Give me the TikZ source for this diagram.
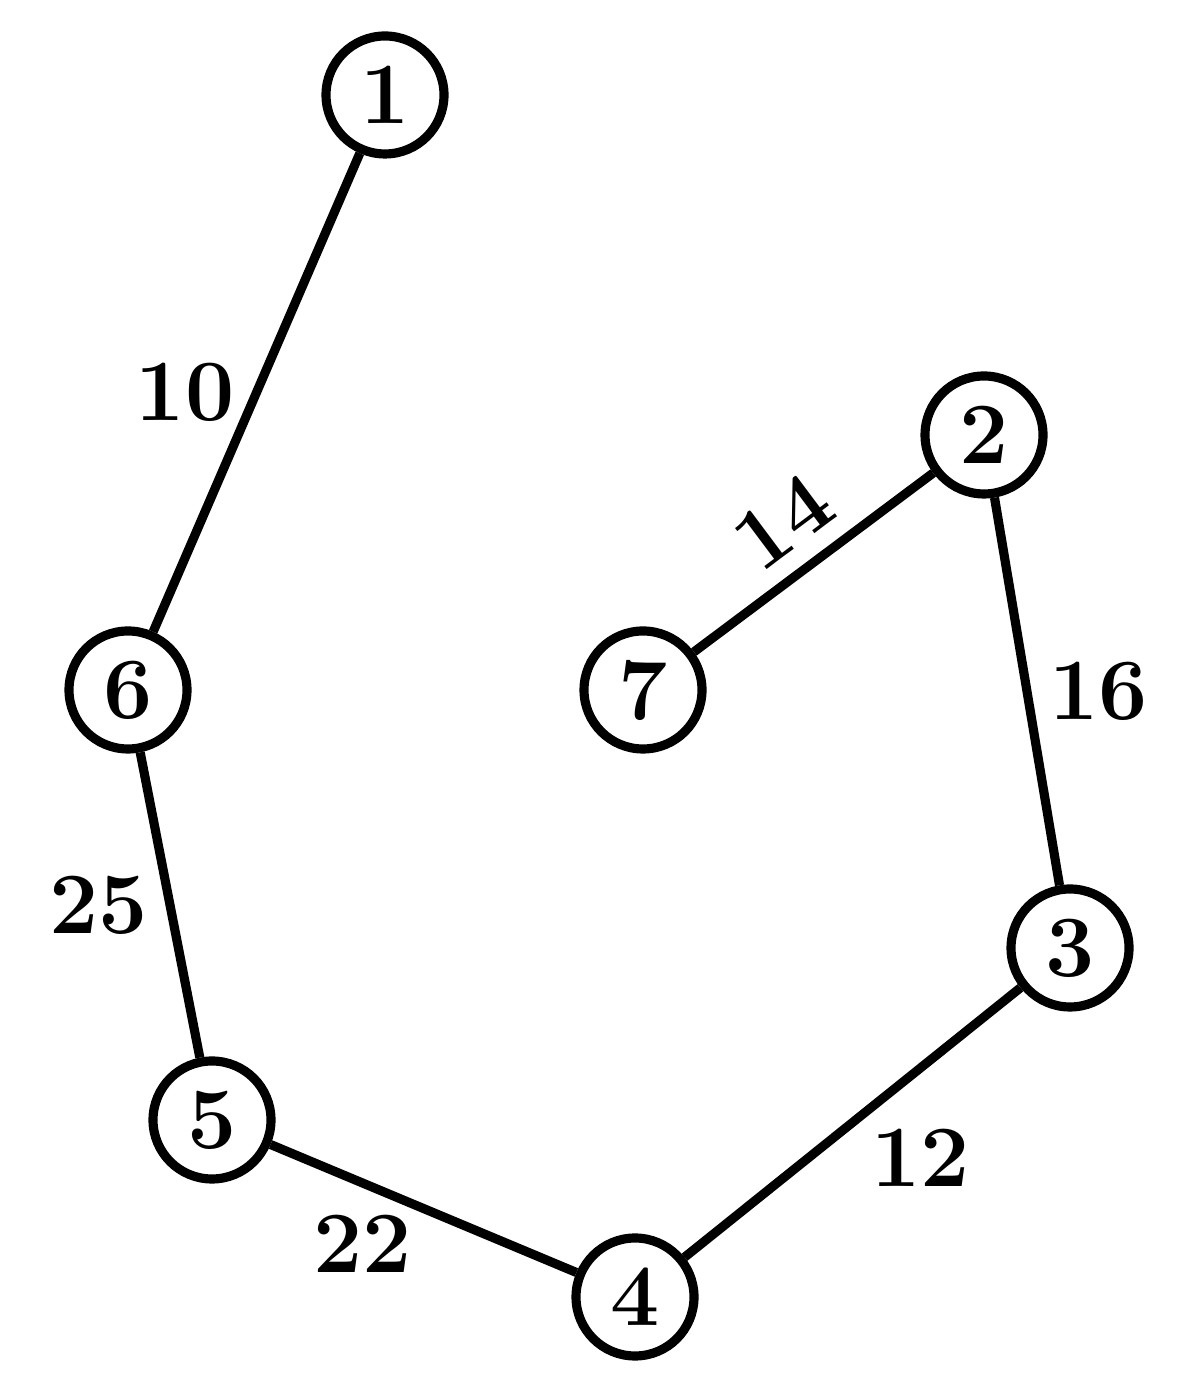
\documentclass[tikz,border=0pt]{standalone}
\usepackage{tikz}

\begin{document}
\begin{tikzpicture}[
	vertex/.style={draw, circle, line width=2.6pt, minimum size=1.18cm, inner sep=0pt, font=\Huge\bfseries},
	weight/.style={inner sep=5pt, font=\Huge\bfseries},
	link/.style={line width=2.6pt}
	]
		%%%%% START %%%%%
		\useasboundingbox (0, 0) rectangle (12, 13.92);
		
		\node[vertex] (v1) at (3.85, 12.97) {1};
		\node[vertex] (v2) at (9.84, 9.57) {2};
		\node[vertex] (v3) at (10.70, 4.44) {3};
		\node[vertex] (v4) at (6.35, 0.95) {4};
		\node[vertex] (v5) at (2.12, 2.72) {5};
		\node[vertex] (v6) at (1.28, 7.02) {6};
		\node[vertex] (v7) at (6.43, 7.02) {7};
		
		\draw[link] (v1) -- node[weight, midway, left] {10} (v6);
		\draw[link] (v6) -- node[weight, midway, left] {25} (v5);
		\draw[link] (v5) -- node[weight, midway, below left, xshift=3pt, yshift=4.5pt] {22} (v4);
		\draw[link] (v4) -- node[weight, midway, below right, xshift=-1pt, yshift=4.5pt] {12} (v3);
		\draw[link] (v3) -- node[weight, midway, right] {16} (v2);
		\draw[link] (v7) -- node[weight, midway, above, sloped] {14} (v2);
		%%%%% END %%%%%
\end{tikzpicture}
\end{document}
